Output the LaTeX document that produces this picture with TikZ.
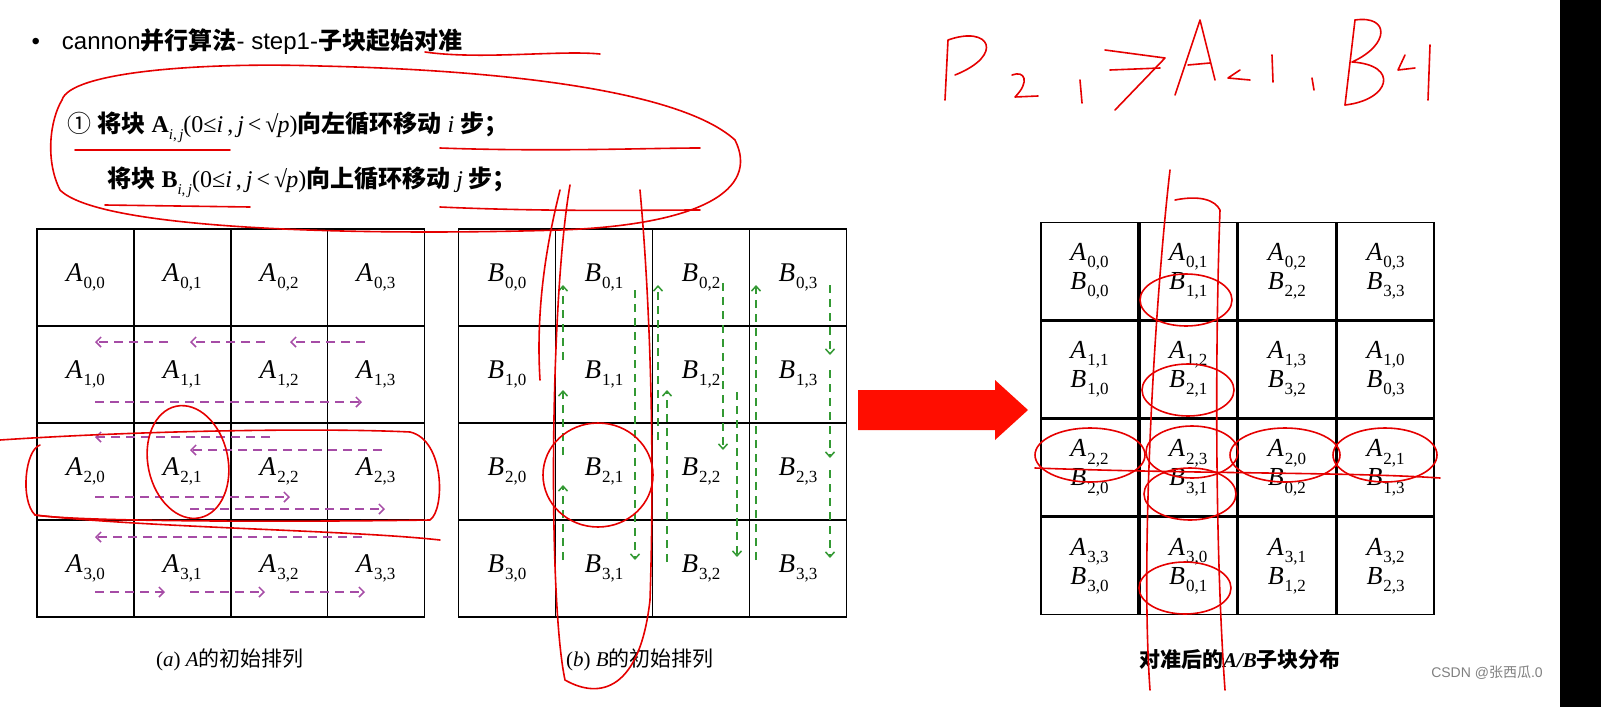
\documentclass[tikz,border=0pt]{standalone}
\usepackage{fontspec}
\setmainfont{Liberation Serif}
\setsansfont{Liberation Sans}
\newfontfamily\cjk{Noto Sans CJK SC}
\usetikzlibrary{arrows.meta}
\newcommand\lab[2]{\textit{#1}\kern1pt\raisebox{-0.28em}{\fontsize{17}{18}\selectfont #2}}
\newcommand\ijsub{\raisebox{-0.3em}{\fontsize{15}{16}\selectfont\textit{i},\,\textit{j}}}
\begin{document}
\begin{tikzpicture}[x=1pt,y=-1pt,
  cell/.style={draw,line width=1.6pt,minimum width=97pt,minimum height=97pt,inner sep=0pt,font=\fontsize{27}{29}\selectfont},
  purp/.style={draw=violet!70,dash pattern=on 9pt off 6pt,line width=1.5pt,-{Straight Barb[length=5pt,width=10pt]}},
  grn/.style={draw=green!50!black!80,dash pattern=on 8pt off 6pt,line width=1.5pt,-{Straight Barb[length=5pt,width=9pt]}},
  pen/.style={draw=red!90!black,line width=1.6pt,line cap=round,line join=round},
  captxt/.style={font=\fontsize{21}{24}\selectfont}]
\useasboundingbox (0,0) rectangle (1601,707);
\fill[black] (1560,0) rectangle (1601,707);
% title
\node[anchor=west,font=\sffamily\fontsize{24}{28}\selectfont] (title) at (28,42) {\textbullet\hspace{22pt}cannon{\cjk\bfseries 并行算法}- step1-{\cjk\bfseries 子块起始对准}};
\node[anchor=west,font=\fontsize{24}{26}\selectfont] (l1) at (64,127) {{\cjk ①} {\cjk\bfseries 将块} \textbf{A}\ijsub(0≤\textit{i}\,,\,\textit{j}\,<\,√\kern-1pt\textit{p}){\cjk\bfseries 向左循环移动} \textit{i} {\cjk\bfseries 步；}};
\node[anchor=west,font=\fontsize{24}{26}\selectfont] (l2) at (104,182) {{\cjk\bfseries 将块} \textbf{B}\ijsub(0≤\textit{i}\,,\,\textit{j}\,<\,√\kern-1pt\textit{p}){\cjk\bfseries 向上循环移动} \textit{j} {\cjk\bfseries 步；}};
% grids
\foreach \r in {0,...,3}{\foreach \c in {0,...,3}{
  \node[cell] (a\r\c) at (85.5+96.8*\c,277.5+97*\r) {\lab{A}{\r,\c}};
  \node[cell] (b\r\c) at (507+97*\c,277.5+97*\r) {\lab{B}{\r,\c}};
}}
\newcommand\rc[4]{\node[cell,font=\fontsize{26}{27}\selectfont,align=center] (c#1#2) at (1089.5+98.7*#2,271+98.3*#1) {\lab{A}{#3}\\[2pt]\lab{B}{#4}};}
\rc00{0,0}{0,0}\rc01{0,1}{1,1}\rc02{0,2}{2,2}\rc03{0,3}{3,3}
\rc10{1,1}{1,0}\rc11{1,2}{2,1}\rc12{1,3}{3,2}\rc13{1,0}{0,3}
\rc20{2,2}{2,0}\rc21{2,3}{3,1}\rc22{2,0}{0,2}\rc23{2,1}{1,3}
\rc30{3,3}{3,0}\rc31{3,0}{0,1}\rc32{3,1}{1,2}\rc33{3,2}{2,3}
% purple arrows
\draw[purp] (168,342)--(95,342); \draw[purp] (265,342)--(190,342); \draw[purp] (365,342)--(290,342);
\draw[purp] (95,402)--(362,402);
\draw[purp] (270,437)--(95,437); \draw[purp] (382,450)--(190,450);
\draw[purp] (95,497)--(290,497); \draw[purp] (190,509)--(385,509);
\draw[purp] (362,537)--(95,537);
\draw[purp] (95,592)--(165,592); \draw[purp] (190,592)--(265,592); \draw[purp] (290,592)--(365,592);
% green arrows
\draw[grn] (563,455)--(563,390); \draw[grn] (563,360)--(563,285); \draw[grn] (563,560)--(563,485);
\draw[grn] (635,290)--(635,560);
\draw[grn] (658,440)--(658,285); \draw[grn] (667,562)--(667,390);
\draw[grn] (723,283)--(723,450); \draw[grn] (737,392)--(737,557);
\draw[grn] (756,560)--(756,285);
\draw[grn] (830,285)--(830,355); \draw[grn] (830,370)--(830,458); \draw[grn] (830,470)--(830,558);
% big arrow
\fill[red!90!orange] (858,390)--(995,390)--(995,380)--(1028,410)--(995,440)--(995,430)--(858,430)--cycle;
% captions
\node[captxt] (capa) at (230,660) {(\textit{a}) \textit{A}{\cjk 的初始排列}};
\node[captxt] (capb) at (640,660) {(\textit{b}) \textit{B}{\cjk 的初始排列}};
\node[captxt,font=\bfseries\fontsize{21}{24}\selectfont] (capc) at (1240,660) {{\cjk\bfseries 对准后的}\textit{A/B}{\cjk\bfseries 子块分布}};
\node[font=\sffamily\fontsize{14}{16}\selectfont,text=gray] (wm) at (1487,673) {CSDN @{\cjk 张西瓜}.0};
% red pen marks
\draw[pen] (425,52) .. controls (480,60) and (560,50) .. (600,54);
\draw[pen] (62,100) .. controls (70,72) and (200,62) .. (320,66) .. controls (500,70) and (680,90) .. (735,140) .. controls (760,190) and (700,225) .. (560,230) .. controls (360,236) and (100,230) .. (60,190) .. controls (45,160) and (50,120) .. (62,100);
\draw[pen] (75,150)--(230,150); \draw[pen] (440,148) .. controls (550,152) and (650,148) .. (700,148);
\draw[pen] (105,205)--(250,207); \draw[pen] (440,207) .. controls (550,212) and (650,210) .. (700,210);
\draw[pen] (0,440) .. controls (150,430) and (330,428) .. (410,432) .. controls (445,440) and (445,510) .. (430,520) .. controls (300,522) and (80,522) .. (35,515) .. controls (20,500) and (25,450) .. (40,445);
\draw[pen] (35,515) .. controls (150,528) and (350,530) .. (440,540);
\draw[pen,rotate around={12:(188,462)}] (188,462) ellipse [x radius=40,y radius=57];
\draw[pen] (540,380) .. controls (535,300) and (550,230) .. (560,190);
\draw[pen] (570,185) .. controls (550,300) and (548,600) .. (565,680) .. controls (600,700) and (640,690) .. (650,600) .. controls (655,450) and (650,300) .. (640,190);
\draw[pen] (598,475) circle [x radius=55,y radius=52];
\draw[pen] (1170,170) .. controls (1155,300) and (1140,550) .. (1150,690);
\draw[pen] (1175,200) .. controls (1200,195) and (1215,200) .. (1220,210) .. controls (1215,350) and (1215,550) .. (1225,690);
\foreach \p/\w in {1186/300,1188/390,1192/452,1190/494,1185/588}{\draw[pen] (\p,\w) ellipse [x radius=46,y radius=26];}
\draw[pen] (1090,455) ellipse [x radius=55,y radius=27];
\draw[pen] (1285,455) ellipse [x radius=55,y radius=27];
\draw[pen] (1385,455) ellipse [x radius=52,y radius=27];
\draw[pen] (1035,468) .. controls (1200,474) and (1350,472) .. (1440,478);
% handwriting P2,1 => A21, B21
\draw[pen] (945,100)--(948,40) .. controls (990,25) and (1005,55) .. (955,75);
\draw[pen] (1012,75)..controls (1025,70) and (1030,82) ..(1015,97)--(1038,96);
\draw[pen] (1080,80)--(1082,103);
\draw[pen] (1105,50)--(1165,58)--(1115,110); \draw[pen] (1110,70)--(1160,68);
\draw[pen] (1175,95)--(1200,20)--(1215,80); \draw[pen] (1188,65)--(1210,63);
\draw[pen] (1240,70)--(1228,78)--(1250,80);
\draw[pen] (1272,55)--(1273,82);
\draw[pen] (1312,78)--(1314,90);
\draw[pen] (1355,20)--(1345,105); \draw[pen] (1355,20) .. controls (1390,15) and (1390,45) .. (1352,62) .. controls (1400,65) and (1390,100) .. (1345,105);
\draw[pen] (1405,55)--(1398,70)--(1415,68);
\draw[pen] (1430,45)--(1428,100);
\end{tikzpicture}
\end{document}
